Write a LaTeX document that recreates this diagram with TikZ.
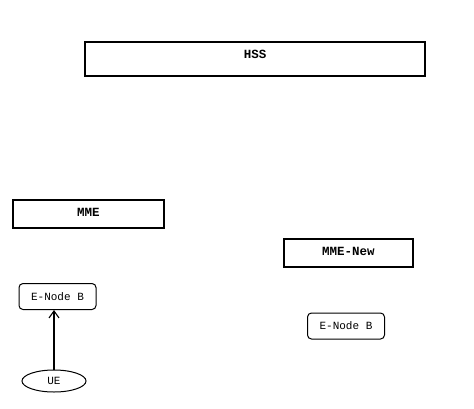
\documentclass[tikz,border=0pt]{standalone}
\usepackage{fontspec}
\setmonofont{Liberation Mono}
\usetikzlibrary{shapes.geometric,arrows.meta}

\begin{document}
\begin{tikzpicture}[
    x=1pt, y=-1pt,
    entity/.style={draw, rectangle, line width=1.1pt, inner sep=0pt,
        font=\ttfamily\bfseries\fontsize{12.5}{14}\selectfont},
    station/.style={draw, rectangle, rounded corners=4pt, line width=1pt,
        inner sep=0pt, minimum width=77pt, minimum height=26pt,
        font=\ttfamily\fontsize{11}{12}\selectfont},
    terminal/.style={draw, ellipse, line width=1pt, inner sep=0pt,
        minimum width=64pt, minimum height=22pt,
        font=\ttfamily\fontsize{11}{12}\selectfont},
    >={Straight Barb[length=7pt,width=10pt]}
]
\useasboundingbox (0,0) rectangle (474,408);

% Core network
\node[entity, minimum width=340pt, minimum height=34pt, text depth=9pt] (hss) at (255,59) {HSS};
\node[entity, minimum width=151pt, minimum height=28pt, text depth=4pt] (mme) at (88.5,214) {MME};
\node[entity, minimum width=129pt, minimum height=28pt, text depth=4pt] (mmenew) at (348.5,253) {MME-New};

% Radio side
\node[station] (enb) at (57.5,296.5) {E-Node B};
\node[station] (enbnew) at (346,326) {E-Node B};
\node[terminal] (ue) at (54,381) {UE};

% Attach
\draw[->, line width=1.1pt] (ue.north) -- (ue.north |- enb.south);

\end{tikzpicture}
\end{document}
